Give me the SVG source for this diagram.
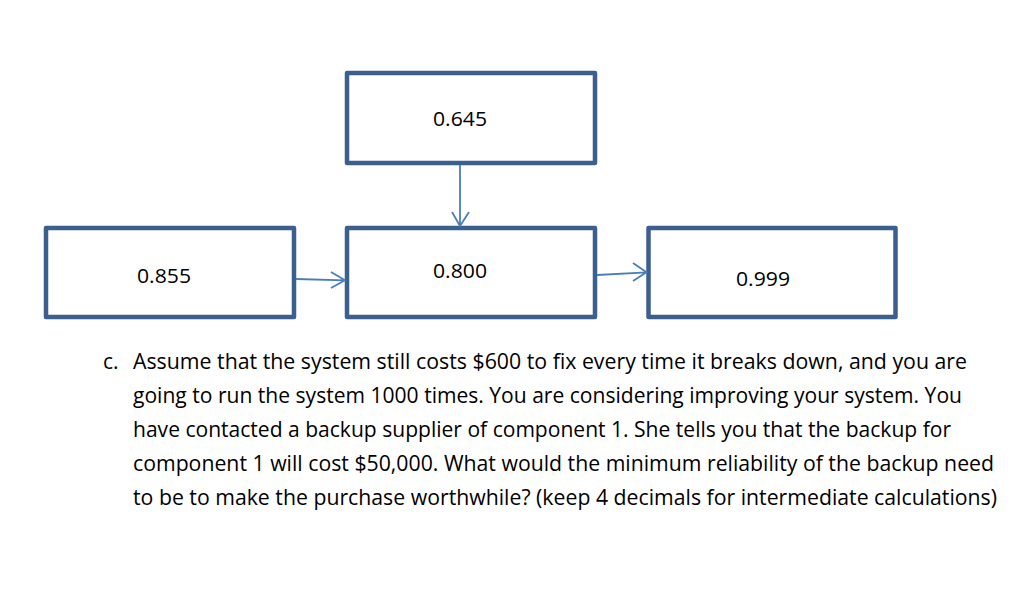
<svg xmlns="http://www.w3.org/2000/svg" width="1024" height="589" viewBox="0 0 1024 589">
<style>
.box{fill:#ffffff;stroke:#3b5f8f;stroke-width:4.5;stroke-linejoin:round}
.lbl{font-family:"Open Sans","Liberation Sans",sans-serif;font-size:20px;fill:#000}
.txt{font-family:"Open Sans","Liberation Sans",sans-serif;font-size:21px;fill:#000}
.con{fill:none;stroke:#4a7ebb;stroke-width:1.8}
</style>
<rect width="1024" height="589" fill="#ffffff"/>
<g id="node-top">
<rect class="box" x="347" y="73" width="248" height="90"/>
<text class="lbl" x="433" y="126" textLength="54" lengthAdjust="spacingAndGlyphs">0.645</text>
</g>
<g id="node-left">
<rect class="box" x="46" y="228" width="248" height="89"/>
<text class="lbl" x="137" y="283" textLength="54" lengthAdjust="spacingAndGlyphs">0.855</text>
</g>
<g id="node-middle">
<rect class="box" x="347" y="228" width="248" height="89"/>
<text class="lbl" x="433" y="278" textLength="54" lengthAdjust="spacingAndGlyphs">0.800</text>
</g>
<g id="node-right">
<rect class="box" x="648.5" y="228" width="247" height="89"/>
<text class="lbl" x="736" y="286" textLength="54" lengthAdjust="spacingAndGlyphs">0.999</text>
</g>
<g id="connectors">
<path class="con" d="M460 165 L460 226 M452 212 L460 226 L469 212"/>
<path class="con" d="M296 279 L345 280.3 M331 272 L345 280.3 L331 288"/>
<path class="con" d="M597 275 L646.5 272.3 M633 263 L646.5 272.3 L633 281"/>
</g>
<g id="question">
<text class="txt" x="103" y="369">c.</text>
<text class="txt" x="133" y="369" textLength="834" lengthAdjust="spacingAndGlyphs">Assume that the system still costs $600 to fix every time it breaks down, and you are</text>
<text class="txt" x="133" y="403" textLength="829" lengthAdjust="spacingAndGlyphs">going to run the system 1000 times. You are considering improving your system. You</text>
<text class="txt" x="133" y="437" textLength="818" lengthAdjust="spacingAndGlyphs">have contacted a backup supplier of component 1. She tells you that the backup for</text>
<text class="txt" x="133" y="471" textLength="861" lengthAdjust="spacingAndGlyphs">component 1 will cost $50,000. What would the minimum reliability of the backup need</text>
<text class="txt" x="133" y="505" textLength="864" lengthAdjust="spacingAndGlyphs">to be to make the purchase worthwhile? (keep 4 decimals for intermediate calculations)</text>
</g>
</svg>
